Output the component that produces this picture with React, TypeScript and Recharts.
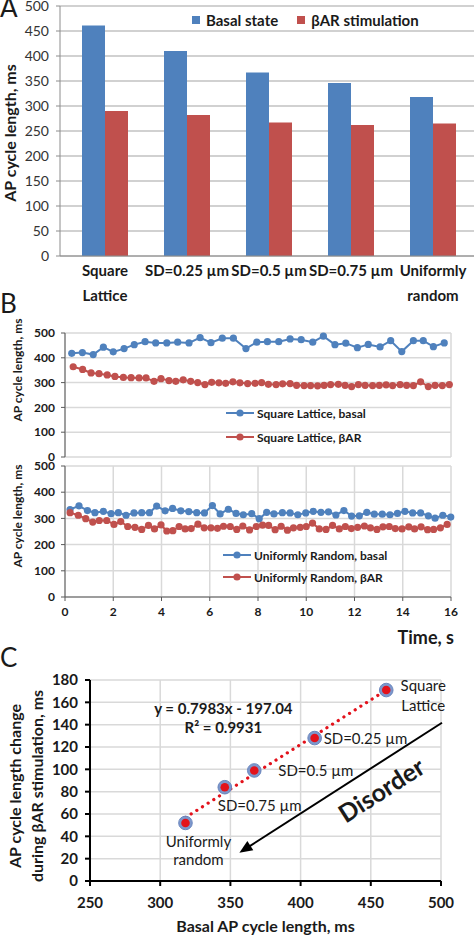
import React from 'react';
import {
  BarChart,
  Bar,
  LineChart,
  Line,
  ScatterChart,
  Scatter,
  XAxis,
  YAxis,
  CartesianGrid,
  Legend,
  ReferenceLine,
  ReferenceDot,
  LabelList,
} from 'recharts';

const FONT = 'Lato, "Open Sans", "DejaVu Sans", sans-serif';
const BLUE = '#4F81BD';
const RED = '#C0504D';
const INK = '#1a1a1a';

// A: mean AP cycle length for each cell layout
const categories = ['Square\nLattice', 'SD=0.25 µm', 'SD=0.5 µm', 'SD=0.75 µm', 'Uniformly\nrandom'];
const basalCL = [461, 410, 367, 346, 318];
const betaCL = [290, 282, 267, 262, 265];
const barTicks = [0, 50, 100, 150, 200, 250, 300, 350, 400, 450, 500];

// B: beat-to-beat cycle length (time in s, cycle length in ms)
const latticeBasalT = [0.28, 0.72, 1.17, 1.59, 2.0, 2.45, 2.87, 3.32, 3.76, 4.22, 4.67, 5.14, 5.6, 6.05, 6.52, 6.98, 7.5, 7.95, 8.39, 8.86, 9.33, 9.79, 10.27, 10.71, 11.19, 11.64, 12.12, 12.57, 13.06, 13.5, 13.96, 14.44, 14.85, 15.27, 15.72];
const latticeBasalCL = [418, 421, 413, 443, 424, 437, 453, 465, 460, 460, 463, 460, 481, 461, 479, 479, 437, 463, 465, 465, 476, 473, 463, 487, 453, 459, 441, 454, 444, 469, 425, 469, 469, 445, 460];
const latticeBetaT = [0.34, 0.73, 1.08, 1.41, 1.75, 2.07, 2.42, 2.74, 3.07, 3.36, 3.69, 3.98, 4.31, 4.59, 4.9, 5.21, 5.5, 5.8, 6.08, 6.38, 6.66, 6.96, 7.25, 7.57, 7.88, 8.15, 8.43, 8.75, 9.02, 9.33, 9.6, 9.91, 10.18, 10.47, 10.74, 11.01, 11.33, 11.61, 11.88, 12.16, 12.44, 12.75, 13.03, 13.31, 13.58, 13.89, 14.16, 14.44, 14.74, 15.06, 15.34, 15.64, 15.93];
const latticeBetaCL = [364, 353, 339, 336, 331, 325, 321, 320, 319, 319, 305, 316, 308, 305, 311, 305, 300, 292, 301, 299, 297, 303, 299, 296, 297, 300, 293, 292, 295, 296, 289, 288, 288, 287, 289, 292, 293, 289, 284, 292, 289, 288, 289, 291, 288, 292, 289, 288, 303, 284, 289, 288, 292];
const randomBasalT = [0.21, 0.58, 0.93, 1.24, 1.59, 1.91, 2.21, 2.53, 2.86, 3.18, 3.5, 3.8, 4.15, 4.46, 4.8, 5.13, 5.46, 5.78, 6.11, 6.43, 6.77, 7.09, 7.39, 7.74, 8.05, 8.36, 8.66, 9.01, 9.33, 9.65, 9.98, 10.29, 10.61, 10.92, 11.23, 11.56, 11.88, 12.2, 12.51, 12.82, 13.15, 13.47, 13.78, 14.09, 14.41, 14.74, 15.06, 15.34, 15.66, 15.99];
const randomBasalCL = [334, 348, 330, 322, 327, 318, 322, 312, 321, 322, 322, 347, 329, 338, 329, 326, 322, 321, 349, 317, 335, 319, 314, 318, 299, 323, 317, 322, 321, 314, 321, 327, 323, 325, 313, 330, 309, 310, 323, 316, 316, 314, 319, 327, 321, 321, 310, 301, 312, 305];
const randomBetaT = [0.21, 0.55, 0.86, 1.15, 1.42, 1.73, 2.03, 2.31, 2.6, 2.9, 3.18, 3.46, 3.71, 3.98, 4.22, 4.47, 4.73, 4.98, 5.23, 5.51, 5.77, 6.05, 6.32, 6.57, 6.85, 7.12, 7.37, 7.65, 7.93, 8.19, 8.44, 8.71, 8.96, 9.22, 9.47, 9.75, 10.0, 10.26, 10.54, 10.82, 11.09, 11.37, 11.62, 11.87, 12.13, 12.41, 12.66, 12.93, 13.18, 13.44, 13.69, 13.97, 14.25, 14.49, 14.76, 15.03, 15.28, 15.56, 15.84];
const randomBetaCL = [322, 312, 299, 286, 292, 292, 277, 288, 269, 266, 258, 273, 260, 275, 252, 253, 269, 260, 261, 278, 264, 264, 262, 270, 269, 258, 271, 256, 269, 274, 273, 257, 270, 255, 264, 266, 269, 282, 260, 258, 273, 260, 269, 261, 266, 271, 264, 258, 268, 269, 261, 260, 268, 260, 268, 257, 258, 264, 277];
const timeTicks = [0, 2, 4, 6, 8, 10, 12, 14, 16];
const clTicks = [0, 100, 200, 300, 400, 500];

// C: cycle length change vs basal cycle length
const clChange = [171, 128, 99, 84, 52];
const changeTicks = [0, 20, 40, 60, 80, 100, 120, 140, 160, 180];
const basalTicks = [250, 300, 350, 400, 450, 500];
const trendSlope = 0.7983;
const trendIntercept = -197.04;
const trendRange = [318, 461];
const arrowFrom = { x: 500.7, y: 141.7 };
const arrowTo = { x: 356.4, y: 25.3 };

const barData = categories.map((name, i) => ({ name, basal: basalCL[i], beta: betaCL[i] }));
const series = (t: number[], v: number[]) => t.map((x, i) => ({ t: x, v: v[i] }));
const latticeBasal = series(latticeBasalT, latticeBasalCL);
const latticeBeta = series(latticeBetaT, latticeBetaCL);
const randomBasal = series(randomBasalT, randomBasalCL);
const randomBeta = series(randomBetaT, randomBetaCL);
const scatterData = categories.map((name, i) => ({ x: basalCL[i], y: clChange[i], name }));
const trendSegment = trendRange.map((x) => ({ x, y: trendSlope * x + trendIntercept }));

// label offsets (px) from each point in C, same order as categories
const pointLabelPos = [
  { dx: 37, dy: -5, anchor: 'middle', gap: 20 },
  { dx: 9, dy: 0, anchor: 'start', gap: 0 },
  { dx: 24, dy: 0, anchor: 'start', gap: 0 },
  { dx: -7, dy: 18, anchor: 'start', gap: 0 },
  { dx: 13, dy: 18, anchor: 'middle', gap: 18 },
];

const CategoryTick = ({ x, y, payload }: any) => {
  const lines = String(payload.value).split('\n');
  return (
    <text x={x} y={y} textAnchor="middle" fontFamily={FONT} fontSize={15} fontWeight={700} fill={INK}>
      {lines.map((l, i) => (
        <tspan key={i} x={x} dy={i === 0 ? 20 : 25}>
          {l}
        </tspan>
      ))}
    </text>
  );
};

const RotText = ({ viewBox, lines, xs, dy, size }: any) => {
  const cy = viewBox.y + dy;
  return (
    <g>
      {lines.map((l: string, i: number) => {
        const cx = viewBox.x + xs[i];
        return (
          <text
            key={i}
            x={cx}
            y={cy}
            transform={`rotate(-90 ${cx} ${cy})`}
            textAnchor="middle"
            dominantBaseline="central"
            fontFamily={FONT}
            fontSize={size}
            fontWeight={700}
            fill={INK}
          >
            {l}
          </text>
        );
      })}
    </g>
  );
};

const FlatText = ({ viewBox, text, dx, dy, size, anchor }: any) => (
  <text
    x={viewBox.x + dx}
    y={viewBox.y + dy}
    textAnchor={anchor}
    fontFamily={FONT}
    fontSize={size}
    fontWeight={700}
    fill={INK}
  >
    {text}
  </text>
);

const BarLegend = ({ payload }: any) => (
  <div style={{ display: 'flex', alignItems: 'center', fontFamily: FONT, fontSize: 15, fontWeight: 700, color: INK, whiteSpace: 'nowrap', lineHeight: '18px' }}>
    {(payload || []).map((p: any) => (
      <span key={p.value} style={{ display: 'flex', alignItems: 'center', marginRight: 19 }}>
        <span style={{ display: 'inline-block', width: 8, height: 8, background: p.color, marginRight: 6 }} />
        {p.value}
      </span>
    ))}
  </div>
);

const LineLegend = ({ payload, rowH }: any) => (
  <div style={{ fontFamily: FONT, fontSize: 12, fontWeight: 700, color: INK, whiteSpace: 'nowrap' }}>
    {(payload || []).map((p: any) => (
      <div key={p.value} style={{ display: 'flex', alignItems: 'center', height: rowH }}>
        <svg width={28} height={10} style={{ marginRight: 3 }}>
          <line x1={0} y1={5} x2={28} y2={5} stroke={p.color} strokeWidth={2} />
          <circle cx={14} cy={5} r={3.6} fill={p.color} />
        </svg>
        {p.value}
      </div>
    ))}
  </div>
);

const Marker = ({ cx, cy }: any) => (
  <g>
    <circle cx={cx} cy={cy} r={6.8} fill="#7c97cc" stroke="#6b87be" strokeWidth={1} />
    <circle cx={cx} cy={cy} r={4.3} fill="#e3121b" />
  </g>
);

const PointLabel = (props: any) => {
  const vb = props.viewBox || props;
  const cx = vb.x + (vb.width || 0) / 2;
  const cy = vb.y + (vb.height || 0) / 2;
  const idx = categories.indexOf(props.value);
  const pos = pointLabelPos[idx < 0 ? 0 : idx];
  const lines = String(props.value).split('\n');
  return (
    <text
      x={cx + pos.dx}
      y={cy + pos.dy}
      textAnchor={pos.anchor}
      dominantBaseline="central"
      fontFamily={FONT}
      fontSize={15}
      fontWeight={400}
      fill={INK}
    >
      {lines.map((l, i) => (
        <tspan key={i} x={cx + pos.dx} dy={i === 0 ? 0 : pos.gap}>
          {l}
        </tspan>
      ))}
    </text>
  );
};

const EquationLabel = ({ viewBox }: any) => {
  const x = viewBox.x + (viewBox.width || 0) / 2;
  const y = viewBox.y + (viewBox.height || 0) / 2;
  return (
    <text x={x} y={y} textAnchor="middle" dominantBaseline="central" fontFamily={FONT} fontSize={15} fontWeight={700} fill={INK}>
      <tspan x={x} dy={0}>y = 0.7983x - 197.04</tspan>
      <tspan x={x} dy={19}>R² = 0.9931</tspan>
    </text>
  );
};

const ArrowShape = ({ x1, y1, x2, y2 }: any) => {
  const len = Math.hypot(x2 - x1, y2 - y1) || 1;
  const ux = (x2 - x1) / len;
  const uy = (y2 - y1) / len;
  const nx = -uy;
  const ny = ux;
  const head = 13;
  const half = 5.5;
  const bx = x2 - ux * head;
  const by = y2 - uy * head;
  // text sits under the shaft, reading up the slope
  const ax = -ux;
  const ay = -uy;
  const px = -ay;
  const py = ax;
  const mx = (x1 + x2) / 2 + ax * 33 + px * 23;
  const my = (y1 + y2) / 2 + ay * 33 + py * 23;
  const angle = (Math.atan2(ay, ax) * 180) / Math.PI;
  return (
    <g>
      <line x1={x1} y1={y1} x2={bx + ux * 2} y2={by + uy * 2} stroke="#000" strokeWidth={2} />
      <polygon points={`${x2},${y2} ${bx + nx * half},${by + ny * half} ${bx - nx * half},${by - ny * half}`} fill="#000" />
      <text
        x={mx}
        y={my}
        transform={`rotate(${angle} ${mx} ${my})`}
        textAnchor="middle"
        dominantBaseline="central"
        fontFamily={FONT}
        fontSize={25}
        fontWeight={700}
        fill={INK}
      >
        Disorder
      </text>
    </g>
  );
};

const PanelA = () => (
  <BarChart width={474} height={310} data={barData} margin={{ top: 6, right: 0, bottom: 0, left: 0 }} barGap={0} barSize={23}>
    <CartesianGrid vertical={false} stroke="#a3a3a3" />
    <XAxis
      dataKey="name"
      height={54}
      interval={0}
      padding={{ left: 4, right: 0 }}
      tick={<CategoryTick />}
      tickLine={false}
      tickSize={0}
      tickMargin={0}
      axisLine={{ stroke: '#8c8c8c' }}
    />
    <YAxis
      width={60}
      domain={[0, 500]}
      ticks={barTicks}
      interval={0}
      tickSize={4}
      tickMargin={7}
      tickLine={{ stroke: '#8c8c8c' }}
      axisLine={{ stroke: '#8c8c8c' }}
      tick={{ fontSize: 14, fill: '#333', fontFamily: FONT }}
      label={<RotText lines={['AP cycle length, ms']} xs={[9]} dy={127} size={16} />}
    />
    <Legend
      content={<BarLegend />}
      layout="horizontal"
      verticalAlign="middle"
      align="center"
      wrapperStyle={{ left: 192, top: 11, width: 'auto' }}
    />
    <Bar dataKey="basal" name="Basal state" fill={BLUE} isAnimationActive={false} />
    <Bar dataKey="beta" name="βAR stimulation" fill={RED} isAnimationActive={false} />
  </BarChart>
);

const yAxisB = (dy: number) => (
  <YAxis
    width={65}
    type="number"
    domain={[0, 500]}
    ticks={clTicks}
    interval={0}
    tickSize={4}
    tickMargin={6}
    tickLine={{ stroke: '#595959' }}
    axisLine={{ stroke: '#595959' }}
    tick={{ fontSize: 12, fontWeight: 700, fill: INK, fontFamily: FONT }}
    label={<RotText lines={['AP cycle length, ms']} xs={[17]} dy={dy} size={12} />}
  />
);

const lineProps = (color: string) => ({
  dataKey: 'v',
  stroke: color,
  strokeWidth: 2,
  dot: { r: 3.6, fill: color, stroke: color, strokeWidth: 0 },
  activeDot: false,
  isAnimationActive: false,
});

const PanelBTop = () => (
  <LineChart width={474} height={170} margin={{ top: 33, right: 23, bottom: 13, left: 0 }}>
    <CartesianGrid stroke="#d9d9d9" strokeWidth={1.5} />
    <XAxis type="number" dataKey="t" domain={[0, 16]} ticks={timeTicks} height={0} tick={false} tickLine={false} axisLine={false} />
    {yAxisB(37)}
    <Legend
      content={<LineLegend rowH={24} />}
      layout="horizontal"
      verticalAlign="middle"
      align="center"
      wrapperStyle={{ left: 226, top: 101, width: 'auto' }}
    />
    <Line data={latticeBasal} name="Square Lattice, basal" {...(lineProps(BLUE) as any)} />
    <Line data={latticeBeta} name="Square Lattice, βAR" {...(lineProps(RED) as any)} />
  </LineChart>
);

const PanelBBottom = () => (
  <LineChart width={474} height={195} margin={{ top: 8, right: 23, bottom: 0, left: 0 }}>
    <CartesianGrid stroke="#d9d9d9" strokeWidth={1.5} />
    <XAxis
      type="number"
      dataKey="t"
      domain={[0, 16]}
      ticks={timeTicks}
      interval={0}
      height={56}
      tickSize={4}
      tickMargin={6}
      tickLine={{ stroke: '#595959' }}
      axisLine={{ stroke: '#595959' }}
      tick={{ fontSize: 12, fontWeight: 700, fill: INK, fontFamily: FONT }}
      label={<FlatText text="Time, s" dx={389} dy={47} size={18} anchor="end" />}
    />
    {yAxisB(50)}
    <Legend
      content={<LineLegend rowH={22} />}
      layout="horizontal"
      verticalAlign="middle"
      align="center"
      wrapperStyle={{ left: 223, top: 86, width: 'auto' }}
    />
    <Line data={randomBasal} name="Uniformly Random, basal" {...(lineProps(BLUE) as any)} />
    <Line data={randomBeta} name="Uniformly Random, βAR" {...(lineProps(RED) as any)} />
  </LineChart>
);

const PanelC = () => (
  <ScatterChart width={474} height={267} margin={{ top: 10, right: 33, bottom: 0, left: 0 }}>
    <CartesianGrid stroke="#d9d9d9" strokeWidth={1.5} />
    <XAxis
      type="number"
      dataKey="x"
      domain={[250, 500]}
      ticks={basalTicks}
      interval={0}
      height={56}
      tickSize={5}
      tickMargin={11}
      tickLine={{ stroke: '#000', strokeWidth: 2 }}
      axisLine={{ stroke: '#000', strokeWidth: 2 }}
      tick={{ fontSize: 15, fontWeight: 700, fill: INK, fontFamily: FONT }}
      label={<FlatText text="Basal AP cycle length, ms" dx={175.5} dy={51} size={16} anchor="middle" />}
    />
    <YAxis
      type="number"
      dataKey="y"
      domain={[0, 180]}
      ticks={changeTicks}
      interval={0}
      width={90}
      tickSize={5}
      tickMargin={7}
      tickLine={{ stroke: '#000', strokeWidth: 2 }}
      axisLine={{ stroke: '#000', strokeWidth: 2 }}
      tick={{ fontSize: 15, fontWeight: 700, fill: INK, fontFamily: FONT }}
      label={
        <RotText
          lines={['AP cycle length change', 'during βAR stimulation, ms']}
          xs={[14, 36]}
          dy={106}
          size={16}
        />
      }
    />
    <ReferenceLine
      segment={trendSegment}
      stroke="#e3121b"
      strokeWidth={3.2}
      strokeDasharray="0.1 6.6"
      strokeLinecap="round"
      ifOverflow="visible"
    />
    <ReferenceLine segment={[arrowFrom, arrowTo]} ifOverflow="visible" shape={ArrowShape} />
    <ReferenceDot x={345} y={155} r={0} ifOverflow="visible" fill="none" stroke="none" label={<EquationLabel />} />
    <Scatter data={scatterData} shape={<Marker />} isAnimationActive={false}>
      <LabelList dataKey="name" content={<PointLabel />} />
    </Scatter>
  </ScatterChart>
);

export default function App() {
  return (
    <div style={{ position: 'absolute', left: 0, top: 0, width: 474, height: 937, background: '#fff', overflow: 'hidden' }}>
      <div style={{ position: 'absolute', left: 0, top: 0 }}>
        <PanelA />
      </div>
      <div style={{ position: 'absolute', left: 0, top: 300 }}>
        <PanelBTop />
      </div>
      <div style={{ position: 'absolute', left: 0, top: 458 }}>
        <PanelBBottom />
      </div>
      <div style={{ position: 'absolute', left: 0, top: 670 }}>
        <PanelC />
      </div>
      <svg width={474} height={937} style={{ position: 'absolute', left: 0, top: 0, pointerEvents: 'none' }}>
        <text x={0} y={17} fontFamily={FONT} fontSize={26} fill={INK}>A</text>
        <text x={0} y={313} fontFamily={FONT} fontSize={26} fill={INK}>B</text>
        <text x={0} y={667} fontFamily={FONT} fontSize={26} fill={INK}>C</text>
      </svg>
    </div>
  );
}
